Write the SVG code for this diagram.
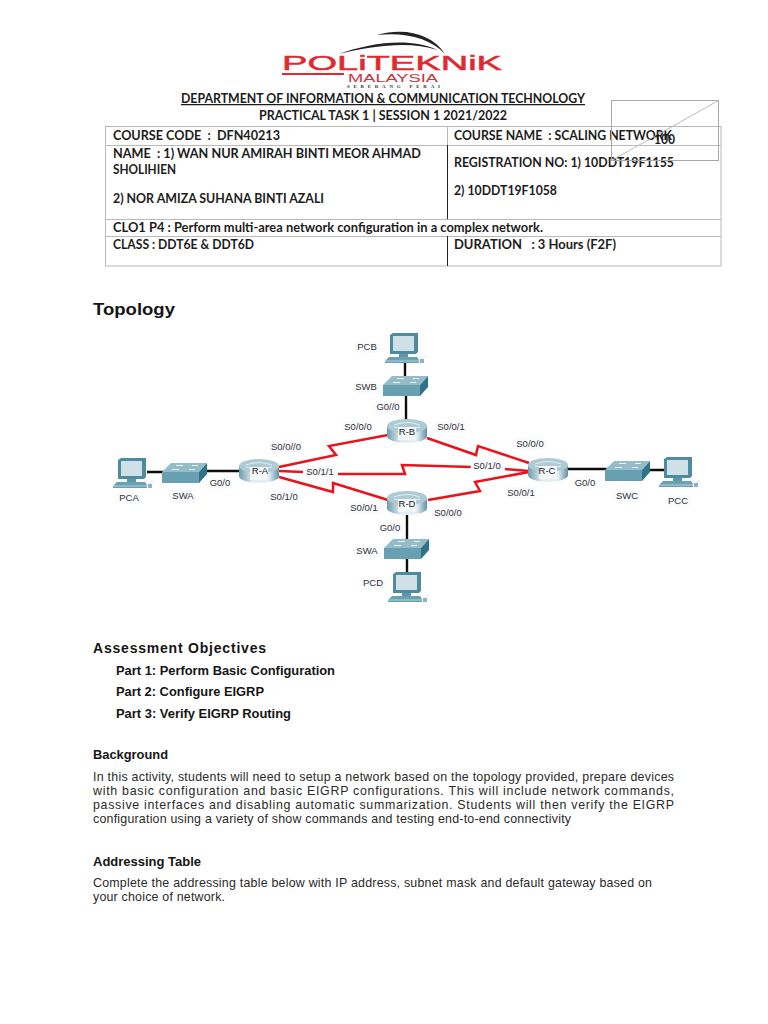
<svg xmlns="http://www.w3.org/2000/svg" xmlns:xlink="http://www.w3.org/1999/xlink" width="768" height="1024" viewBox="0 0 768 1024">
<style>
.doc{font-family:"Lato","Open Sans","Liberation Sans",sans-serif;font-weight:700;font-size:12.5px;fill:#1c1c1c}
.h{font-family:"Liberation Sans",Arial,sans-serif;font-weight:700;fill:#151515}
.b{font-family:"Liberation Sans",Arial,sans-serif;font-size:12.400px;fill:#2a2a2a}
.l{font-family:"Liberation Sans",Arial,sans-serif;font-size:9.500px;fill:#333;text-anchor:middle;paint-order:stroke;stroke:#f9fafe;stroke-width:6px;stroke-linejoin:round}
.rl{font-family:"Liberation Sans",Arial,sans-serif;font-size:9.500px;fill:#222;text-anchor:middle}
.tb{stroke:#b9b9b9;stroke-width:1;fill:none}
.red{fill:none;stroke:#e8131b;stroke-width:2.500;stroke-linejoin:miter}
.blk{fill:none;stroke:#0c0c0c;stroke-width:2.400}
</style>
<defs>
<linearGradient id="rg" x1="0" x2="1" y1="0" y2="0"><stop offset="0" stop-color="#6c9bac"/><stop offset=".35" stop-color="#e4eef1"/><stop offset=".75" stop-color="#e4eef1"/><stop offset="1" stop-color="#5f92a4"/></linearGradient>
<g id="pc">
<path d="M0 2L3 0H28V19L26 21H0Z" fill="#4f8ba0"/>
<rect x="3" y="3" width="21" height="15" fill="#cfe0e6"/>
<rect x="9" y="21" width="9" height="3" fill="#5f97a9"/>
<path d="M-1 24H27L29 27V30H-5V28Z" fill="#6aa2b3"/>
<path d="M-5 28H29" stroke="#d7e6ea" stroke-width=".7"/>
<rect x="30" y="26" width="4" height="4" fill="#8ab4c1"/>
<path d="M32 26Q33 23 36 23" fill="none" stroke="#cbdbe1" stroke-width=".7"/>
</g>
<g id="sw">
<path d="M0 9L9 0H45L37 9Z" fill="#95bdc9"/>
<path d="M0 9H37V20H0Z" fill="#689fb1"/>
<path d="M37 9L45 0V11L37 20Z" fill="#2f7389"/>
<path d="M10 6.500H17M27 6.500H33M14 2.500H21M30 2.500H36" stroke="#e8f1f3" stroke-width="1"/>
</g>
<g id="rt">
<path d="M0 7V17A20 7 0 0 0 40 17V7Z" fill="url(#rg)"/>
<ellipse cx="20" cy="7" rx="20" ry="7" fill="#adcbd5"/>
<path d="M7 6Q20 1 33 6M7 8Q20 12 33 8" fill="none" stroke="#e9f2f4" stroke-width=".9"/>
<rect x="11" y="8" width="18" height="13" fill="#f4f7f9"/>
</g>
</defs>
<rect width="768" height="1024" fill="#fff"/>

<g id="logo">
<path d="M339 54C370 43 410 37 437 50C411 41 375 45 339 54Z" fill="#222"/>
<path d="M377 35C405 27 432 34 445 54C430 38 405 32 377 35Z" fill="#222"/>
<text x="282" y="70" font-family="Liberation Sans,sans-serif" font-size="21" stroke="#de2a30" stroke-width=".5" fill="#de2a30" textLength="220" lengthAdjust="spacingAndGlyphs">POLiTEKNiK</text>
<rect x="282" y="73" width="62" height="2" fill="#de2a30"/>
<text x="348" y="81.500" font-family="Liberation Sans,sans-serif" font-size="10.500" fill="#c9343a" textLength="90" lengthAdjust="spacingAndGlyphs">MALAYSIA</text>
<text x="347" y="87.500" font-family="Liberation Serif,serif" font-weight="700" font-size="5" fill="#333" textLength="93" lengthAdjust="spacing">SEBERANG PERAI</text>
</g>

<g id="header">
<text class="doc" x="181" y="103" textLength="404" lengthAdjust="spacingAndGlyphs" text-decoration="underline">DEPARTMENT OF INFORMATION &amp; COMMUNICATION TECHNOLOGY</text>
<text class="doc" x="259" y="120" textLength="248" lengthAdjust="spacingAndGlyphs">PRACTICAL TASK 1  | SESSION 1 2021/2022</text>
</g>

<g id="table">
<rect class="tb" x="105.500" y="126.500" width="615.500" height="139.500"/>
<path class="tb" d="M105 145.500H721M105 219.500H721M105 236.500H721M447.500 126V145"/>
<path d="M447.500 145V219M447.500 236V266" stroke="#222" stroke-width="1" fill="none"/>
<text class="doc" x="113" y="140" textLength="167" lengthAdjust="spacingAndGlyphs" xml:space="preserve">COURSE CODE  :  DFN40213</text>
<text class="doc" x="113" y="158" textLength="308" lengthAdjust="spacingAndGlyphs" xml:space="preserve">NAME  : 1) WAN NUR AMIRAH BINTI MEOR AHMAD</text>
<text class="doc" x="113" y="174" textLength="63" lengthAdjust="spacingAndGlyphs">SHOLIHIEN</text>
<text class="doc" x="113" y="203" textLength="211" lengthAdjust="spacingAndGlyphs">2) NOR AMIZA SUHANA BINTI AZALI</text>
<text class="doc" x="113" y="232" textLength="430" lengthAdjust="spacingAndGlyphs">CLO1 P4 : Perform multi-area network configuration in a complex network.</text>
<text class="doc" x="113" y="249" textLength="141" lengthAdjust="spacingAndGlyphs">CLASS : DDT6E &amp; DDT6D</text>
<text class="doc" x="454" y="140" textLength="218" lengthAdjust="spacingAndGlyphs" xml:space="preserve">COURSE NAME  : SCALING NETWORK</text>
<text class="doc" x="454" y="167" textLength="220" lengthAdjust="spacingAndGlyphs">REGISTRATION NO: 1) 10DDT19F1155</text>
<text class="doc" x="454" y="195" textLength="103" lengthAdjust="spacingAndGlyphs">2) 10DDT19F1058</text>
<text class="doc" x="454" y="249" textLength="162" lengthAdjust="spacingAndGlyphs" xml:space="preserve">DURATION   : 3 Hours (F2F)</text>
</g>

<g id="score">
<rect x="611.500" y="100.500" width="107" height="60" fill="none" stroke="#a8a8a8"/>
<path d="M611.500 160.500L718.500 100.500" stroke="#bdbdbd" fill="none"/>
<text class="doc" x="654" y="144" textLength="21" lengthAdjust="spacingAndGlyphs">100</text>
</g>

<text class="h" id="topology-title" x="93" y="315" font-size="17" textLength="82" lengthAdjust="spacingAndGlyphs">Topology</text>

<g id="connectors">
<path class="blk" d="M147 472H164M206 471H240M405 363V377M406 396V420M407 515V540M407 558V573M568 469H607M649 470H665"/>
<polyline class="red" points="279,467 336,455 329,446 388,435"/>
<polyline class="red" points="427,438 476,455 478,446 529,463"/>
<polyline class="red" points="279,477 333,492 333,483 388,500"/>
<polyline class="red" points="428,500 480,491 475,482 529,472"/>
<polyline class="red" points="279,471 303,472"/>
<polyline class="red" points="338,474 405,474 402,465 472,467"/>
<polyline class="red" points="505,469 529,471"/>
</g>

<g id="PCA"><use href="#pc" x="118" y="458"/><text class="l" x="129" y="501">PCA</text></g>
<g id="SWA-left"><use href="#sw" x="162" y="463"/><text class="l" x="183" y="499">SWA</text></g>
<g id="R-A"><use href="#rt" x="239" y="459"/><text class="rl" x="260" y="474">R-A</text></g>
<g id="PCB"><use href="#pc" x="390" y="333"/><text class="l" x="367" y="350">PCB</text></g>
<g id="SWB"><use href="#sw" x="383" y="376"/><text class="l" x="366" y="390">SWB</text></g>
<g id="R-B"><use href="#rt" x="387" y="419"/><text class="rl" x="407" y="435">R-B</text></g>
<g id="R-C"><use href="#rt" x="528" y="458"/><text class="rl" x="547" y="474">R-C</text></g>
<g id="SWC"><use href="#sw" x="605" y="461"/><text class="l" x="627" y="499">SWC</text></g>
<g id="PCC"><use href="#pc" x="664" y="457"/><text class="l" x="678" y="504">PCC</text></g>
<g id="R-D"><use href="#rt" x="387" y="491"/><text class="rl" x="407" y="507">R-D</text></g>
<g id="SWA-bottom"><use href="#sw" x="384" y="539"/><text class="l" x="367" y="554">SWA</text></g>
<g id="PCD"><use href="#pc" x="393" y="572"/><text class="l" x="373" y="586">PCD</text></g>

<g id="port-labels">
<text class="l" x="388" y="410">G0//0</text>
<text class="l" x="358" y="430">S0/0/0</text>
<text class="l" x="451" y="430">S0/0/1</text>
<text class="l" x="286" y="450">S0/0//0</text>
<text class="l" x="320" y="475">S0/1/1</text>
<text class="l" x="284" y="500">S0/1/0</text>
<text class="l" x="220" y="486">G0/0</text>
<text class="l" x="530" y="447">S0/0/0</text>
<text class="l" x="487" y="469">S0/1/0</text>
<text class="l" x="521" y="496">S0/0/1</text>
<text class="l" x="585" y="486">G0/0</text>
<text class="l" x="448" y="516">S0/0/0</text>
<text class="l" x="364" y="511">S0/0/1</text>
<text class="l" x="390" y="531">G0/0</text>
</g>

<g id="body">
<text class="h" x="93" y="653" font-size="14" textLength="173" lengthAdjust="spacing">Assessment Objectives</text>
<text class="h" x="116" y="675" font-size="12.500" textLength="219" lengthAdjust="spacingAndGlyphs">Part 1: Perform Basic Configuration</text>
<text class="h" x="116" y="696" font-size="12.500" textLength="148" lengthAdjust="spacingAndGlyphs">Part 2: Configure EIGRP</text>
<text class="h" x="116" y="718" font-size="12.500" textLength="175" lengthAdjust="spacingAndGlyphs">Part 3: Verify EIGRP Routing</text>
<text class="h" x="93" y="759" font-size="12.500" textLength="75" lengthAdjust="spacingAndGlyphs">Background</text>
<text class="b" x="93" y="781" textLength="581" lengthAdjust="spacing">In this activity, students will need to setup a network based on the topology provided, prepare devices</text>
<text class="b" x="93" y="795" textLength="581" lengthAdjust="spacing">with basic configuration and basic EIGRP configurations.  This will include network commands,</text>
<text class="b" x="93" y="809" textLength="581" lengthAdjust="spacing">passive interfaces and disabling automatic summarization. Students will then verify the EIGRP</text>
<text class="b" x="93" y="823" textLength="478" lengthAdjust="spacing">configuration using a variety of show commands and testing end-to-end connectivity</text>
<text class="h" x="93" y="866" font-size="12.500" textLength="108" lengthAdjust="spacingAndGlyphs">Addressing Table</text>
<text class="b" x="93" y="887" textLength="559" lengthAdjust="spacing">Complete the addressing table below with IP address, subnet mask and default gateway based on</text>
<text class="b" x="93" y="901" textLength="132" lengthAdjust="spacing">your choice of network.</text>
</g>
</svg>
